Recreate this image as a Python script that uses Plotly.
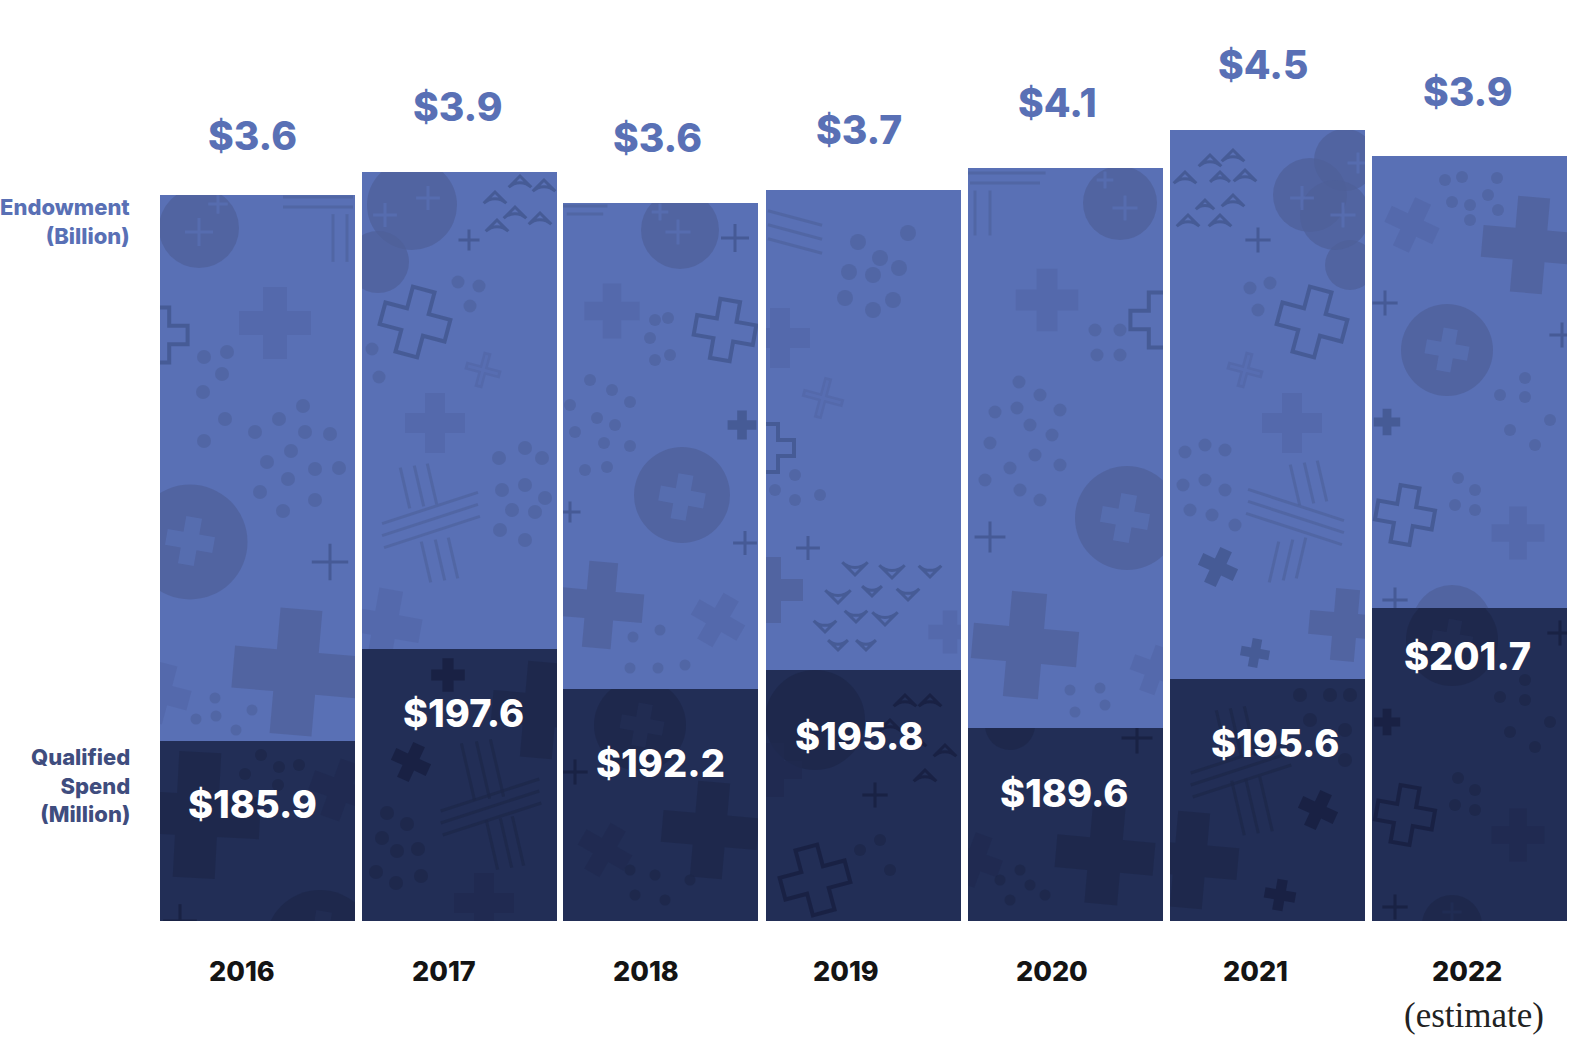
import plotly.graph_objects as go

years = ["2016", "2017", "2018", "2019", "2020", "2021", "2022"]
endowment_labels = ["$3.6", "$3.9", "$3.6", "$3.7", "$4.1", "$4.5", "$3.9"]
spend_labels = ["$185.9", "$197.6", "$192.2", "$195.8", "$189.6", "$195.6", "$201.7"]

# bar heights (the original axis is not to scale with its labels)
spend_height = [180, 272, 232, 251, 193, 242, 313]
total_height = [726, 749, 718, 731, 753, 791, 765]

# layout
W, H = 1570, 1041
BASE = 921
BAR_W = 195
bar_left = [160, 362, 563, 766, 968, 1170, 1372]
end_dx = [-5, -2, -3, -5, -8, -5, -2]
end_dy = [59, 65, 65, 61, 65, 66, 64]
spend_dx = [-5, 4, 0, -5, -2, 7, -2]
spend_dy = [63, 64, 74, 66, 65, 64, 48]
year_dx = [-16, -16, -15, -18, -14, -12, -3]

LIGHT = "#5970B5"
DARK = "#222E56"
tones_light = {"bg": LIGHT, "soft": "#5367A8", "dot": "#4F639E", "blob": "#4E6098", "ink": "#3F5289"}
tones_dark = {"bg": DARK, "soft": "#1F2A50", "dot": "#1D2749", "blob": "#1D2648", "ink": "#161D3D"}

FONT = "Inter"

# background texture: kind -> symbol, tone, line width
kinds = {
    "dot": ("circle", "dot", 0),
    "soft": ("cross", "soft", 0),
    "blob": ("circle", "blob", 0),
    "big": ("cross", "blob", 0),
    "hole": ("cross", "bg", 0),
    "ink": ("cross", "ink", 0),
    "plus": ("cross-thin", "ink", 3),
    "gap": ("cross-thin", "bg", 3),
    "open": ("cross-open", "ink", 4),
    "slim": ("cross-thin", "soft", 8),
    "bar": ("line-ew", "dot", 3),
    "chev": ("arrow-wide-open", "ink", 3),
}

def dots(points, size=14):
    return [("dot", x, y, size, 0) for x, y in points]

light_marks = [
    [("blob", 199, 228, 80, 0), ("gap", 199, 232, 20, 0), ("gap", 218, 204, 14, 0),
     ("bar", 318, 207, 50, 0), ("bar", 318, 197, 50, 0), ("bar", 333, 238, 34, 90), ("bar", 347, 238, 34, 90),
     ("soft", 275, 323, 60, 0), ("open", 160, 335, 46, 0)]
    + dots([(204, 357), (227, 352), (222, 374), (203, 392), (225, 419), (204, 441), (303, 406), (279, 419),
            (255, 432), (305, 432), (330, 434), (291, 451), (267, 462), (315, 469), (339, 468), (288, 479),
            (260, 492), (315, 500), (283, 511)])
    + [("blob", 190, 542, 115, 0), ("hole", 190, 541, 40, 10), ("plus", 330, 562, 26, 0),
       ("big", 296, 672, 105, 5), ("soft", 160, 693, 50, 15)]
    + dots([(215, 698), (252, 710), (216, 716), (196, 719), (236, 730)], 11),

    [("blob", 412, 205, 90, 0), ("blob", 378, 262, 62, 0), ("gap", 385, 215, 17, 0), ("gap", 428, 198, 17, 0),
     ("chev", 495, 192, 16, 0), ("chev", 520, 176, 16, 0), ("chev", 544, 180, 16, 0), ("chev", 515, 207, 16, 0),
     ("chev", 497, 220, 16, 0), ("chev", 540, 213, 16, 0), ("plus", 469, 240, 15, 0)]
    + dots([(458, 282), (479, 286), (470, 306), (372, 349), (379, 377)], 13)
    + [("open", 415, 322, 56, 15), ("slim", 483, 370, 26, 15), ("gap", 483, 370, 22, 15), ("soft", 435, 423, 50, 0),
       ("bar", 405, 488, 30, 77), ("bar", 419, 486, 30, 77), ("bar", 432, 484, 30, 77),
       ("bar", 430, 508, 72, -18), ("bar", 430, 520, 72, -18), ("bar", 432, 532, 72, -18),
       ("bar", 426, 562, 30, 77), ("bar", 440, 560, 30, 77), ("bar", 453, 558, 30, 77)]
    + dots([(525, 448), (499, 458), (542, 458), (502, 490), (525, 485), (545, 498), (512, 510), (535, 512),
            (500, 530), (525, 540)])
    + [("soft", 385, 625, 60, 10)],

    [("bar", 585, 206, 32, 0), ("bar", 585, 214, 26, 0), ("blob", 680, 230, 78, 0), ("gap", 678, 232, 18, 0),
     ("gap", 660, 212, 12, 0), ("plus", 735, 238, 20, 0), ("soft", 612, 311, 46, 0), ("open", 725, 330, 50, 10)]
    + dots([(655, 320), (668, 318), (650, 338), (670, 355), (655, 360), (590, 380), (612, 390), (630, 402),
            (570, 405), (597, 418), (615, 425), (575, 432), (604, 443), (630, 446), (585, 470), (607, 467)], 12)
    + [("ink", 742, 425, 24, 0), ("blob", 682, 495, 96, 0), ("hole", 682, 497, 38, 10), ("plus", 745, 543, 17, 0),
       ("plus", 570, 512, 15, 0), ("big", 600, 605, 72, 5), ("soft", 718, 620, 44, 30)]
    + dots([(633, 637), (660, 630), (630, 668), (658, 668), (685, 665)], 11),

    [("bar", 795, 218, 40, 15), ("bar", 795, 232, 40, 15), ("bar", 795, 246, 40, 15)]
    + dots([(858, 242), (908, 233), (880, 258), (849, 272), (873, 275), (899, 268), (845, 298), (873, 310), (893, 300)], 16)
    + [("soft", 780, 338, 50, 0), ("slim", 823, 398, 30, 15), ("gap", 823, 398, 26, 15), ("open", 770, 448, 40, 0)]
    + dots([(795, 475), (775, 490), (795, 500), (820, 495)], 12)
    + [("plus", 808, 548, 17, 0), ("big", 770, 590, 55, 0),
       ("chev", 855, 575, 18, 180), ("chev", 892, 578, 18, 180), ("chev", 930, 577, 16, 180),
       ("chev", 838, 603, 18, 180), ("chev", 872, 596, 14, 180), ("chev", 908, 600, 16, 180),
       ("chev", 825, 632, 16, 180), ("chev", 856, 622, 16, 180), ("chev", 885, 625, 18, 180),
       ("chev", 838, 650, 14, 180), ("chev", 866, 650, 14, 180), ("soft", 950, 632, 36, 0)],

    [("bar", 1005, 173, 58, 0), ("bar", 1005, 183, 50, 0), ("bar", 975, 213, 32, 90), ("bar", 990, 213, 32, 90),
     ("blob", 1120, 203, 74, 0), ("gap", 1125, 208, 18, 0), ("gap", 1105, 180, 12, 0), ("soft", 1047, 300, 52, 0)]
    + dots([(1095, 330), (1120, 330), (1097, 355), (1120, 355), (1019, 382), (995, 412), (1017, 408), (1040, 395),
            (1060, 410), (990, 443), (1030, 425), (1052, 435), (1010, 468), (1035, 455), (1060, 465), (985, 480),
            (1020, 490), (1040, 500)], 13)
    + [("open", 1158, 320, 46, 0), ("blob", 1127, 518, 104, 0), ("hole", 1125, 518, 40, 10), ("plus", 990, 537, 22, 0),
       ("big", 1025, 645, 88, 5), ("soft", 1155, 670, 40, 20)]
    + dots([(1070, 690), (1100, 688), (1105, 705), (1075, 712)], 11),

    [("blob", 1310, 195, 74, 0), ("blob", 1345, 160, 62, 0), ("blob", 1350, 265, 50, 0), ("blob", 1335, 215, 70, 0),
     ("gap", 1302, 198, 17, 0), ("gap", 1343, 215, 18, 0), ("gap", 1358, 163, 15, 0),
     ("chev", 1210, 155, 16, 0), ("chev", 1233, 150, 16, 0), ("chev", 1245, 170, 16, 0), ("chev", 1185, 172, 16, 0),
     ("chev", 1220, 172, 14, 0), ("chev", 1233, 195, 16, 0), ("chev", 1205, 200, 13, 0), ("chev", 1188, 215, 16, 0),
     ("chev", 1220, 215, 16, 0), ("plus", 1258, 240, 18, 0)]
    + dots([(1250, 288), (1270, 283), (1258, 310), (1185, 452), (1205, 445), (1225, 450), (1183, 485), (1205, 480),
            (1225, 490), (1190, 510), (1212, 515), (1235, 525)], 13)
    + [("open", 1312, 322, 56, 15), ("slim", 1245, 370, 26, 15), ("gap", 1245, 370, 22, 15), ("soft", 1292, 423, 50, 0),
       ("bar", 1295, 485, 30, 77), ("bar", 1309, 483, 30, 77), ("bar", 1322, 481, 30, 77),
       ("bar", 1296, 505, 72, 18), ("bar", 1296, 517, 72, 18), ("bar", 1294, 529, 72, 18),
       ("bar", 1274, 562, 30, 103), ("bar", 1288, 560, 30, 103), ("bar", 1301, 558, 30, 103),
       ("ink", 1218, 567, 32, 25), ("big", 1345, 625, 60, 5), ("ink", 1255, 653, 24, 10)],

    [("soft", 1412, 225, 44, 25), ("big", 1530, 245, 80, 5), ("plus", 1385, 303, 18, 0), ("plus", 1562, 335, 18, 0),
     ("blob", 1447, 350, 92, 0), ("hole", 1447, 350, 36, 10), ("ink", 1387, 422, 22, 0),
     ("open", 1405, 515, 48, 10), ("soft", 1518, 533, 44, 0), ("plus", 1395, 600, 18, 0), ("blob", 1452, 625, 80, 0)]
    + dots([(1445, 180), (1462, 177), (1497, 178), (1488, 195), (1452, 202), (1470, 205), (1498, 210), (1470, 220),
            (1525, 378), (1500, 395), (1525, 397), (1550, 420), (1510, 430), (1535, 445), (1458, 478), (1475, 490),
            (1455, 505), (1475, 510)], 12),
]

dark_marks = [
    [("big", 197, 815, 105, 3), ("soft", 340, 790, 50, 20), ("blob", 320, 945, 110, 0), ("hole", 320, 935, 40, 10),
     ("plus", 180, 921, 24, 0)]
    + dots([(261, 755), (245, 774), (279, 767), (299, 765), (278, 785)], 12),

    [("ink", 448, 675, 28, 0), ("ink", 411, 762, 32, 25), ("big", 540, 710, 80, 5), ("soft", 484, 903, 50, 0),
     ("bar", 468, 772, 42, 77), ("bar", 483, 770, 42, 77), ("bar", 497, 768, 42, 77),
     ("bar", 490, 795, 74, -18), ("bar", 490, 807, 74, -18), ("bar", 492, 819, 74, -18),
     ("bar", 492, 845, 36, 77), ("bar", 506, 843, 36, 77), ("bar", 518, 841, 36, 77)]
    + dots([(387, 813), (407, 824), (382, 838), (397, 851), (418, 849), (376, 872), (396, 883), (421, 876)]),

    [("blob", 640, 725, 92, 0), ("hole", 642, 725, 36, 10), ("plus", 575, 772, 18, 0), ("big", 710, 830, 80, 5),
     ("soft", 605, 850, 44, 30)]
    + dots([(630, 870), (655, 875), (635, 895), (665, 900), (690, 880)], 11),

    [("blob", 815, 720, 100, 0), ("soft", 775, 770, 45, 0), ("plus", 875, 795, 18, 0), ("open", 815, 880, 56, -15),
     ("chev", 905, 695, 16, 0), ("chev", 930, 695, 16, 0), ("chev", 890, 720, 16, 0), ("chev", 915, 735, 16, 0),
     ("chev", 945, 745, 16, 0), ("chev", 925, 770, 16, 0)]
    + dots([(880, 840), (860, 850), (890, 870)], 12),

    [("blob", 1010, 725, 50, 0), ("plus", 1137, 738, 22, 0), ("big", 1105, 855, 82, 5), ("soft", 975, 860, 44, 20)]
    + dots([(1020, 870), (1000, 880), (1030, 885), (1010, 900), (1045, 895)], 11),

    [("bar", 1222, 735, 36, 77), ("bar", 1236, 733, 36, 77), ("bar", 1250, 731, 36, 77),
     ("bar", 1240, 757, 74, -18), ("bar", 1240, 769, 74, -18), ("bar", 1242, 781, 74, -18),
     ("bar", 1238, 808, 40, 77), ("bar", 1252, 806, 40, 77), ("bar", 1266, 804, 40, 77),
     ("ink", 1318, 810, 32, 25), ("big", 1190, 860, 80, 5), ("ink", 1280, 895, 26, 10)]
    + dots([(1300, 695), (1330, 695), (1350, 695), (1310, 720), (1345, 730), (1345, 760)]),

    [("blob", 1452, 640, 92, 0), ("hole", 1452, 640, 34, 10), ("ink", 1387, 722, 22, 0), ("plus", 1560, 633, 18, 0),
     ("open", 1405, 815, 48, 10), ("soft", 1518, 835, 44, 0), ("plus", 1395, 907, 18, 0), ("blob", 1452, 925, 60, 0),
     ("gap", 1452, 912, 14, 0)]
    + dots([(1525, 680), (1500, 697), (1525, 700), (1550, 722), (1510, 732), (1535, 747), (1458, 778), (1475, 790),
            (1455, 805), (1475, 810)], 12),
]


def texture(marks, tones, xaxis, yaxis):
    # one scatter per bar segment, clipped by its own plot area
    return go.Scatter(
        x=[m[1] for m in marks],
        y=[BASE - m[2] for m in marks],
        mode="markers",
        xaxis=xaxis,
        yaxis=yaxis,
        hoverinfo="skip",
        marker=dict(
            symbol=[kinds[m[0]][0] for m in marks],
            color=[tones[kinds[m[0]][1]] for m in marks],
            size=[m[3] for m in marks],
            angle=[m[4] for m in marks],
            line=dict(
                color=[tones[kinds[m[0]][1]] for m in marks],
                width=[kinds[m[0]][2] for m in marks],
            ),
        ),
    )


fig = go.Figure()
axes = {}
notes = []

for i, year in enumerate(years):
    left = bar_left[i]
    mid = left + BAR_W / 2
    low, top = spend_height[i], total_height[i]
    a, b = 2 * i + 1, 2 * i + 2
    x_dom = [left / W, (left + BAR_W) / W]
    # each segment gets its own axes so the texture is cut at the segment edges
    axes[f"xaxis{a}"] = dict(domain=x_dom, range=[left, left + BAR_W], visible=False, anchor=f"y{a}")
    axes[f"xaxis{b}"] = dict(domain=x_dom, range=[left, left + BAR_W], visible=False, anchor=f"y{b}")
    foot = (H - BASE) / H
    axes[f"yaxis{a}"] = dict(domain=[foot + low / H, foot + top / H], range=[low, top], visible=False, anchor=f"x{a}")
    axes[f"yaxis{b}"] = dict(domain=[foot, foot + low / H], range=[0, low], visible=False, anchor=f"x{b}")

    fig.add_trace(go.Bar(x=[mid], y=[top - low], base=[low], width=[BAR_W], marker=dict(color=LIGHT, line_width=0),
                         xaxis=f"x{a}", yaxis=f"y{a}", hoverinfo="skip"))
    fig.add_trace(go.Bar(x=[mid], y=[low], width=[BAR_W], marker=dict(color=DARK, line_width=0),
                         xaxis=f"x{b}", yaxis=f"y{b}", hoverinfo="skip"))
    fig.add_trace(texture(light_marks[i], tones_light, f"x{a}", f"y{a}"))
    fig.add_trace(texture(dark_marks[i], tones_dark, f"x{b}", f"y{b}"))

    notes.append(dict(text=endowment_labels[i], x=mid, y=top, xref=f"x{a}", yref=f"y{a}",
                      xshift=end_dx[i], yshift=end_dy[i], showarrow=False,
                      font=dict(family=FONT, size=39, color=LIGHT, weight=800)))
    notes.append(dict(text=spend_labels[i], x=mid, y=low, xref=f"x{b}", yref=f"y{b}",
                      xshift=spend_dx[i], yshift=-spend_dy[i], showarrow=False,
                      font=dict(family=FONT, size=38, color="white", weight=800)))
    notes.append(dict(text=year, x=mid, y=0, xref=f"x{b}", yref=f"y{b}",
                      xshift=year_dx[i], yshift=-50, showarrow=False,
                      font=dict(family=FONT, size=27, color="#141414", weight=800)))

notes.append(dict(text="(estimate)", x=1474 / W, y=(H - 1015) / H, xref="paper", yref="paper", showarrow=False,
                  xanchor="center", yanchor="middle",
                  font=dict(family="Liberation Serif", size=35, color="#222222")))
notes.append(dict(text="Endowment<br>(Billion)", x=132 / W, y=(H - 222) / H, xref="paper", yref="paper",
                  xanchor="right", yanchor="middle", align="right", showarrow=False,
                  font=dict(family=FONT, size=22, color=LIGHT, weight=800)))
notes.append(dict(text="Qualified<br>Spend<br>(Million)", x=132 / W, y=(H - 785) / H, xref="paper", yref="paper",
                  xanchor="right", yanchor="middle", align="right", showarrow=False,
                  font=dict(family=FONT, size=22, color="#3F4D7E", weight=800)))

fig.update_layout(
    width=W,
    height=H,
    margin=dict(l=0, r=0, t=0, b=0),
    paper_bgcolor="white",
    plot_bgcolor="white",
    showlegend=False,
    annotations=notes,
    **axes,
)

# the page's default body margin would push the chart off by 8px
fig.write_html(
    "out.html",
    config={"displayModeBar": False},
    post_script="document.body.style.margin = '0'; document.documentElement.style.overflow = 'hidden';",
)
